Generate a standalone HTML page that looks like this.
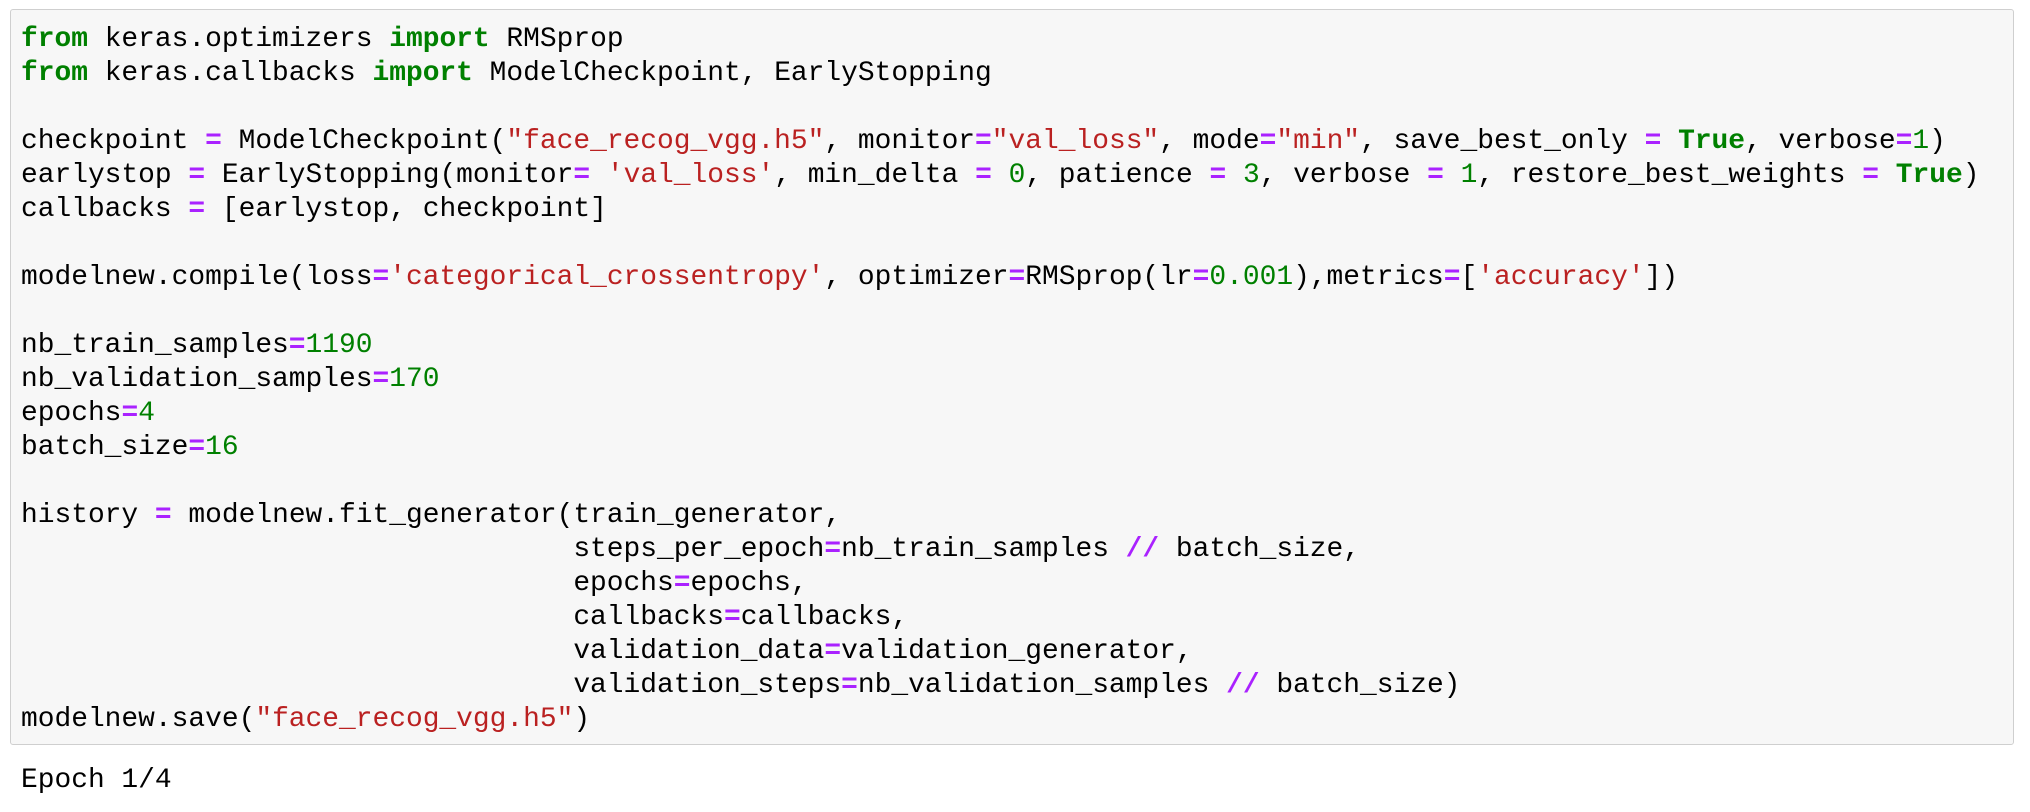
<!DOCTYPE html>
<html><head><meta charset="utf-8"><style>
html,body{margin:0;padding:0;background:#fff;width:2030px;height:812px;overflow:hidden}
.box{position:absolute;left:10px;top:9px;width:2004px;height:736px;background:#f7f7f7;border:1px solid #cfcfcf;border-radius:3px;box-sizing:border-box}
pre{position:absolute;left:21px;margin:0;font-family:"Liberation Mono",monospace;font-size:27.9px;line-height:34px;color:#000;white-space:pre}
.k{color:#008000;font-weight:bold}
.o{color:#AA22FF;font-weight:bold}
.n{color:#008000}
.s{color:#BA2121}
</style></head><body>
<div class="box"></div>
<pre style="top:23px"><span class="k">from</span> keras.optimizers <span class="k">import</span> RMSprop
<span class="k">from</span> keras.callbacks <span class="k">import</span> ModelCheckpoint, EarlyStopping

checkpoint <span class="o">=</span> ModelCheckpoint(<span class="s">"face_recog_vgg.h5"</span>, monitor<span class="o">=</span><span class="s">"val_loss"</span>, mode<span class="o">=</span><span class="s">"min"</span>, save_best_only <span class="o">=</span> <span class="k">True</span>, verbose<span class="o">=</span><span class="n">1</span>)
earlystop <span class="o">=</span> EarlyStopping(monitor<span class="o">=</span> <span class="s">'val_loss'</span>, min_delta <span class="o">=</span> <span class="n">0</span>, patience <span class="o">=</span> <span class="n">3</span>, verbose <span class="o">=</span> <span class="n">1</span>, restore_best_weights <span class="o">=</span> <span class="k">True</span>)
callbacks <span class="o">=</span> [earlystop, checkpoint]

modelnew.compile(loss<span class="o">=</span><span class="s">'categorical_crossentropy'</span>, optimizer<span class="o">=</span>RMSprop(lr<span class="o">=</span><span class="n">0.001</span>),metrics<span class="o">=</span>[<span class="s">'accuracy'</span>])

nb_train_samples<span class="o">=</span><span class="n">1190</span>
nb_validation_samples<span class="o">=</span><span class="n">170</span>
epochs<span class="o">=</span><span class="n">4</span>
batch_size<span class="o">=</span><span class="n">16</span>

history <span class="o">=</span> modelnew.fit_generator(train_generator,
                                 steps_per_epoch<span class="o">=</span>nb_train_samples <span class="o">//</span> batch_size,
                                 epochs<span class="o">=</span>epochs,
                                 callbacks<span class="o">=</span>callbacks,
                                 validation_data<span class="o">=</span>validation_generator,
                                 validation_steps<span class="o">=</span>nb_validation_samples <span class="o">//</span> batch_size)
modelnew.save(<span class="s">"face_recog_vgg.h5"</span>)</pre>
<pre style="top:764px">Epoch 1/4</pre>
</body></html>
